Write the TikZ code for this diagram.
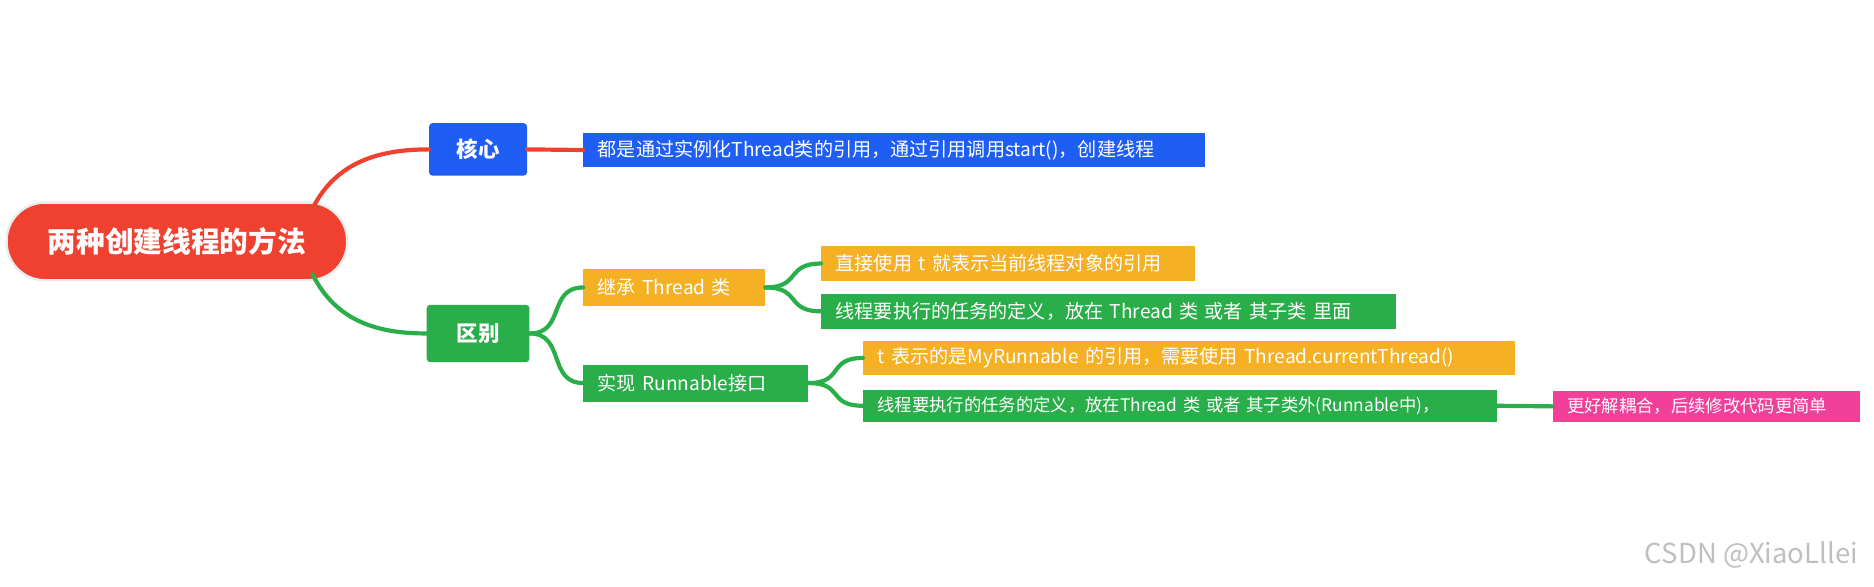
\documentclass[tikz,border=0pt]{standalone}
\usepackage{fontspec}
\setmainfont{Noto Sans CJK SC}
\definecolor{cred}{HTML}{F04030}
\definecolor{cblue}{HTML}{1F5EF5}
\definecolor{cgreen}{HTML}{2AAE4A}
\definecolor{corange}{HTML}{F5B023}
\definecolor{cpink}{HTML}{F0409A}
\begin{document}
\begin{tikzpicture}[x=1pt,y=-1pt,
  box/.style={draw=none,text=white,font=\fontsize{16}{19}\selectfont,inner ysep=0pt,inner xsep=12pt,anchor=west,align=left},
  small/.style={font=\fontsize{14.5}{17}\selectfont},
  lvl1/.style={draw=none,text=white,inner sep=0pt,rounded corners=3pt,font=\fontsize{18}{21}\selectfont\bfseries,anchor=center},
  link/.style={line width=3.5pt,line cap=round}]
\useasboundingbox[fill=white] (0,0) rectangle (1568,491);
\node[lvl1,fill=cred,rounded corners=32pt,minimum width=285,minimum height=65,draw=white!85!gray,line width=2pt,font=\fontsize{24}{28}\selectfont\bfseries] (root) at (148,202) {两种创建线程的方法};
\node[lvl1,fill=cblue,minimum width=82,minimum height=44] (hx) at (400,125) {核心};
\node[lvl1,fill=cgreen,minimum width=86,minimum height=48] (qb) at (400,279) {区别};
\node[box,fill=cblue,text width=496,minimum height=29] (b1) at (488,125.5) {都是通过实例化Thread类的引用，通过引用调用start()，创建线程};
\node[box,fill=corange,text width=128,minimum height=31] (jc) at (488,240.5) {继承 Thread 类};
\node[box,fill=cgreen,text width=164,minimum height=31] (sx) at (488,320.5) {实现 Runnable接口};
\node[box,fill=corange,text width=289,minimum height=29] (a1) at (687,220.5) {直接使用 t 就表示当前线程对象的引用};
\node[box,fill=cgreen,text width=457,minimum height=29] (a2) at (687,260.5) {线程要执行的任务的定义，放在 Thread 类 或者 其子类 里面};
\node[box,fill=corange,text width=521,minimum height=29] (c1) at (722,299.5) {t 表示的是MyRunnable 的引用，需要使用 Thread.currentThread()};
\node[box,small,fill=cgreen,text width=506,minimum height=27] (c2) at (722,339.5) {线程要执行的任务的定义，放在Thread 类 或者 其子类外(Runnable中)，};
\node[box,small,fill=cpink,text width=233,minimum height=26] (p1) at (1299,340) {更好解耦合，后续修改代码更简单};
\node[text=gray!50,font=\fontsize{23}{27}\selectfont,anchor=east] (wm) at (1558,464) {CSDN @XiaoLllei};
\draw[link,cred] (root.north east)++(-30,6) .. controls +(20,-40) and +(-40,0) .. (hx.west);
\draw[link,cgreen] (root.south east)++(-30,-6) .. controls +(20,40) and +(-40,0) .. (qb.west);
\draw[link,cred] (hx.east) -- (b1.west);
\draw[link,cgreen] (qb.east) .. controls +(30,0) and +(-30,0) .. (jc.west);
\draw[link,cgreen] (qb.east) .. controls +(30,0) and +(-30,0) .. (sx.west);
\draw[link,cgreen] (jc.east) .. controls +(30,0) and +(-30,0) .. (a1.west);
\draw[link,cgreen] (jc.east) .. controls +(30,0) and +(-30,0) .. (a2.west);
\draw[link,cgreen] (sx.east) .. controls +(30,0) and +(-30,0) .. (c1.west);
\draw[link,cgreen] (sx.east) .. controls +(30,0) and +(-30,0) .. (c2.west);
\draw[link,cgreen] (c2.east) -- (p1.west);
\end{tikzpicture}
\end{document}
